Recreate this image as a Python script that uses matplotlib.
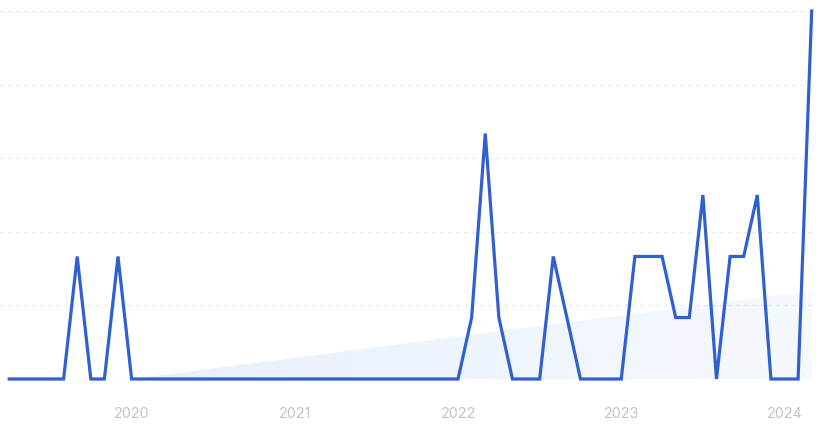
import matplotlib
matplotlib.use("Agg")
import matplotlib.pyplot as plt
import numpy as np
from matplotlib.patches import Polygon

# monthly values, Apr 2019 .. Mar 2024 (relative scale 0-100)
months = [f"{y}-{m:02d}" for y in range(2019, 2025) for m in range(1, 13)]
months = months[3:63]
values = [
    0, 0, 0, 0, 0, 33.3, 0, 0, 33.3,             # 2019 Apr-Dec
    0, 0, 0, 0, 0, 0, 0, 0, 0, 0, 0, 0,          # 2020
    0, 0, 0, 0, 0, 0, 0, 0, 0, 0, 0, 0,          # 2021
    0, 16.7, 66.7, 16.7, 0, 0, 0, 33.3, 16.7, 0, 0, 0,   # 2022
    0, 33.3, 33.3, 33.3, 16.7, 16.7, 50, 0, 33.3, 33.3, 50, 0,  # 2023
    0, 0, 100,                                   # 2024 Jan-Mar
]
trend_start = ("2020-01", 0.0)
trend_end = ("2024-03", 24.0)
year_labels = ["2020", "2021", "2022", "2023", "2024"]

x = np.arange(len(values))

fig = plt.figure(figsize=(8.23, 4.24), dpi=100)
ax = fig.add_axes([0, 1 - 379 / 424, 811.7 / 823, 368 / 424])
ax.set_xlim(-9.2 / 13.61, len(values) - 1)
ax.set_ylim(0, 100)

# dashed grid
for gy in [20, 40, 60, 80, 100]:
    ax.axhline(gy, color="#e4e6ea", lw=0.8, ls=(0, (3, 4.2)), zorder=1, clip_on=False)

# trend area with horizontal gradient
x0 = months.index(trend_start[0])
x1 = months.index(trend_end[0])
tri = Polygon([[x0, trend_start[1]], [x1, trend_end[1]], [x1, 0]], closed=True,
              facecolor="none", edgecolor="none")
ax.add_patch(tri)
grad = np.zeros((2, 256, 4))
base = np.array([0.84, 0.90, 0.98])
grad[..., :3] = base
grad[..., 3] = np.linspace(0.58, 0.22, 256)
im = ax.imshow(grad, extent=[x0, x1, 0, trend_end[1]], aspect="auto",
               origin="lower", zorder=2, interpolation="bilinear")
im.set_clip_path(tri)

# baseline
ax.plot([0, len(values) - 1], [0, 0], color="#dfe5f0", lw=1.0, zorder=2)

ax.plot(x, values, color="#3060d0", lw=2.3, zorder=3, clip_on=False,
        solid_joinstyle="miter")

ticks = [months.index(y + "-01") for y in year_labels]
ax.set_xticks(ticks)
ax.set_xticklabels(year_labels, fontsize=10.3, color="#c3c3c3", family="Inter")
ax.tick_params(axis="x", length=0, pad=20)
ax.set_yticks([])
for s in ax.spines.values():
    s.set_visible(False)

fig.savefig("out.png", dpi=100)
